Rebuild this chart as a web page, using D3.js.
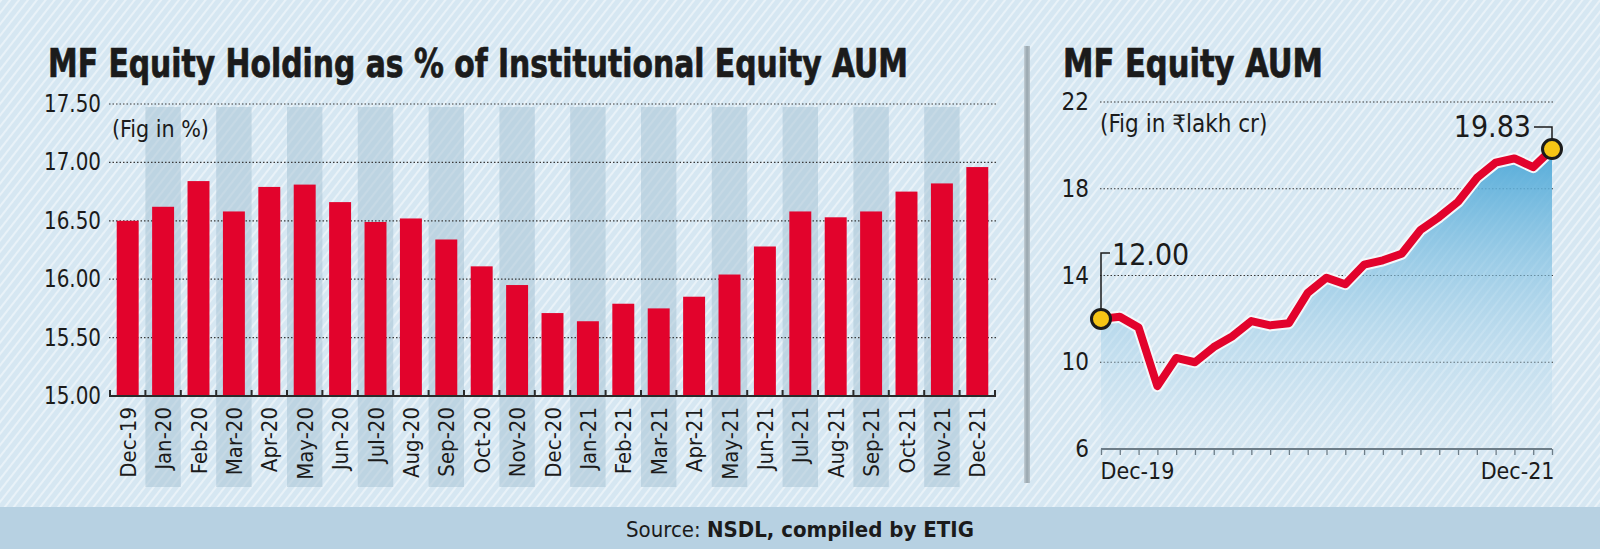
<!DOCTYPE html>
<html>
<head>
<meta charset="utf-8">
<script src="https://cdn.jsdelivr.net/npm/d3@7"></script>
<style>
  html, body { margin: 0; padding: 0; background: #d6e7f2; }
  svg { display: block; }
  text { font-family: 'DejaVu Sans Condensed', 'Liberation Sans Narrow', sans-serif; fill: #1b1b1b; }
</style>
</head>
<body>
<div id="chart"></div>
<script>
const months = ['Dec-19', 'Jan-20', 'Feb-20', 'Mar-20', 'Apr-20', 'May-20', 'Jun-20', 'Jul-20',
  'Aug-20', 'Sep-20', 'Oct-20', 'Nov-20', 'Dec-20', 'Jan-21', 'Feb-21', 'Mar-21', 'Apr-21',
  'May-21', 'Jun-21', 'Jul-21', 'Aug-21', 'Sep-21', 'Oct-21', 'Nov-21', 'Dec-21'];
const holdingPct = [16.50, 16.62, 16.84, 16.58, 16.79, 16.81, 16.66, 16.49, 16.52, 16.34, 16.11,
  15.95, 15.71, 15.64, 15.79, 15.75, 15.85, 16.04, 16.28, 16.58, 16.53, 16.58, 16.75, 16.82, 16.96];
const equityAum = [12.00, 12.1, 11.6, 8.9, 10.2, 10.0, 10.7, 11.2, 11.9, 11.7, 11.8, 13.2, 13.9,
  13.6, 14.5, 14.7, 15.0, 16.1, 16.7, 17.4, 18.5, 19.2, 19.4, 19.0, 19.83];
const pctTicks = [15, 15.5, 16, 16.5, 17, 17.5];
const aumTicks = [6, 10, 14, 18, 22];

const W = 1600, H = 549;
const svg = d3.select('#chart').append('svg').attr('width', W).attr('height', H);
const defs = svg.append('defs');

// background hatch
const pat = defs.append('pattern').attr('id', 'hatch')
  .attr('patternUnits', 'userSpaceOnUse').attr('width', 7).attr('height', 7)
  .attr('patternTransform', 'rotate(38)');
pat.append('rect').attr('width', 7).attr('height', 7).attr('fill', '#d6e7f2');
pat.append('line').attr('x1', 1).attr('x2', 1).attr('y1', 0).attr('y2', 7)
  .attr('stroke', '#eef5fa').attr('stroke-width', 1.6);

const areaGrad = defs.append('linearGradient').attr('id', 'areaGrad')
  .attr('x1', 0).attr('x2', 0).attr('y1', 0).attr('y2', 1);
areaGrad.append('stop').attr('offset', '0%').attr('stop-color', '#4fa9d8').attr('stop-opacity', 0.95);
areaGrad.append('stop').attr('offset', '100%').attr('stop-color', '#cfe4f1').attr('stop-opacity', 0.15);

const sepGrad = defs.append('linearGradient').attr('id', 'sepGrad');
sepGrad.append('stop').attr('offset', '0%').attr('stop-color', '#c3ced5');
sepGrad.append('stop').attr('offset', '50%').attr('stop-color', '#98a6ae');
sepGrad.append('stop').attr('offset', '100%').attr('stop-color', '#b7c3ca');

svg.append('rect').attr('width', W).attr('height', H).attr('fill', 'url(#hatch)');

// ---------- left: bar chart ----------
const slot = d3.scaleBand().domain(months).range([110, 995]).padding(0);
const xBar = d3.scaleBand().domain(months).range([110, 995]).paddingInner(0.38).paddingOuter(0.19);
const yPct = d3.scaleLinear().domain([15, 17.5]).range([396, 104]);

svg.append('text').attr('x', 48).attr('y', 77)
  .attr('font-size', 39).attr('font-weight', 'bold')
  .attr('stroke', '#1b1b1b').attr('stroke-width', 0.7)
  .attr('textLength', 860).attr('lengthAdjust', 'spacingAndGlyphs')
  .text('MF Equity Holding as % of Institutional Equity AUM');

svg.append('g').selectAll('rect')
  .data(months.filter((d, i) => i % 2 === 1))
  .join('rect')
  .attr('x', d => slot(d)).attr('width', slot.bandwidth())
  .attr('y', 107).attr('height', 380)
  .attr('fill', '#a9c4d6').attr('opacity', 0.55);

svg.append('g').selectAll('line')
  .data(pctTicks.slice(1))
  .join('line')
  .attr('x1', 109).attr('x2', 996)
  .attr('y1', d => yPct(d)).attr('y2', d => yPct(d))
  .attr('stroke', '#3a3a3a').attr('stroke-width', 1.2).attr('stroke-dasharray', '1.5,2');

svg.append('g').selectAll('text')
  .data(pctTicks)
  .join('text')
  .attr('x', 101).attr('y', d => yPct(d) + 8)
  .attr('text-anchor', 'end').attr('font-size', 24)
  .attr('textLength', 57).attr('lengthAdjust', 'spacingAndGlyphs')
  .text(d => d3.format('.2f')(d));

svg.append('text').attr('x', 112).attr('y', 137).attr('font-size', 23).text('(Fig in %)');

svg.append('g').selectAll('rect')
  .data(months)
  .join('rect')
  .attr('x', d => xBar(d)).attr('width', xBar.bandwidth())
  .attr('y', (d, i) => yPct(holdingPct[i]))
  .attr('height', (d, i) => yPct(15) - yPct(holdingPct[i]))
  .attr('fill', '#e2032c');

const axisG = svg.append('g');
axisG.append('line').attr('x1', 109).attr('x2', 996)
  .attr('y1', yPct(15)).attr('y2', yPct(15))
  .attr('stroke', '#2b2b2b').attr('stroke-width', 2.2);
axisG.selectAll('line.tick')
  .data(months.map(d => slot(d)).concat([slot.range()[1]]))
  .join('line').attr('class', 'tick')
  .attr('x1', d => d).attr('x2', d => d)
  .attr('y1', yPct(15) - 6).attr('y2', yPct(15))
  .attr('stroke', '#2b2b2b').attr('stroke-width', 2);

svg.append('g').selectAll('text')
  .data(months)
  .join('text')
  .attr('transform', d => `translate(${slot(d) + slot.bandwidth() / 2 + 8},407) rotate(-90)`)
  .attr('text-anchor', 'end').attr('font-size', 22)
  .text(d => d);

// separator
svg.append('rect').attr('x', 1024).attr('y', 46).attr('width', 6).attr('height', 437)
  .attr('fill', 'url(#sepGrad)');

// ---------- right: line chart ----------
const xPt = d3.scalePoint().domain(months).range([1101, 1552]);
const yAum = d3.scaleLinear().domain([6, 22]).range([449, 102]);

svg.append('text').attr('x', 1063).attr('y', 77)
  .attr('font-size', 39).attr('font-weight', 'bold')
  .attr('stroke', '#1b1b1b').attr('stroke-width', 0.7)
  .attr('textLength', 260).attr('lengthAdjust', 'spacingAndGlyphs')
  .text('MF Equity AUM');

svg.append('g').selectAll('line')
  .data(aumTicks.slice(1))
  .join('line')
  .attr('x1', 1100).attr('x2', 1553)
  .attr('y1', d => yAum(d)).attr('y2', d => yAum(d))
  .attr('stroke', '#3a3a3a').attr('stroke-width', 1.2).attr('stroke-dasharray', '1.5,2');

svg.append('g').selectAll('text')
  .data(aumTicks)
  .join('text')
  .attr('x', 1089).attr('y', d => yAum(d) + 8)
  .attr('text-anchor', 'end').attr('font-size', 24)
  .text(d => d);

svg.append('text').attr('x', 1100).attr('y', 132).attr('font-size', 24).text('(Fig in ₹lakh cr)');

const area = d3.area()
  .x((d, i) => xPt(months[i]))
  .y0(yAum(6)).y1(d => yAum(d) + 4);
svg.append('path').datum(equityAum).attr('d', area).attr('fill', 'url(#areaGrad)');

const xAxisR = svg.append('g').attr('transform', `translate(0,${yAum(6)})`)
  .call(d3.axisBottom(xPt).tickSize(6).tickPadding(8)
    .tickFormat((d, i) => (i === 0 || i === months.length - 1) ? d : ''));
xAxisR.select('.domain').attr('stroke', '#6d7d88').attr('stroke-width', 2).attr('d', `M1101,0H1552`);
xAxisR.selectAll('.tick line').attr('stroke', '#6d7d88').attr('stroke-width', 1.3);
xAxisR.selectAll('.tick text')
  .attr('font-size', 23).attr('fill', '#1b1b1b')
  .attr('font-family', "'DejaVu Sans Condensed', 'Liberation Sans Narrow', sans-serif")
  .attr('text-anchor', (d, i) => i === 0 ? 'start' : 'end')
  .attr('dx', (d, i) => i === 0 ? -1 : 2);

const line = d3.line().x((d, i) => xPt(months[i])).y(d => yAum(d));
svg.append('path').datum(equityAum).attr('d', line)
  .attr('fill', 'none').attr('stroke', '#f4f8fb').attr('stroke-width', 12)
  .attr('stroke-linejoin', 'round');
svg.append('path').datum(equityAum).attr('d', line)
  .attr('fill', 'none').attr('stroke', '#e2032c').attr('stroke-width', 8)
  .attr('stroke-linejoin', 'round');

// callouts
const first = 0, last = equityAum.length - 1;
const fx = xPt(months[first]), fy = yAum(equityAum[first]);
const lx = xPt(months[last]), ly = yAum(equityAum[last]);
svg.append('path').attr('d', `M${fx},${fy}V253H${fx + 9}`)
  .attr('fill', 'none').attr('stroke', '#1b1b1b').attr('stroke-width', 1.5);
svg.append('text').attr('x', fx + 11).attr('y', 265).attr('font-size', 30)
  .text(equityAum[first].toFixed(2));
svg.append('path').attr('d', `M${lx - 18},127H${lx}V${ly}`)
  .attr('fill', 'none').attr('stroke', '#1b1b1b').attr('stroke-width', 1.5);
svg.append('text').attr('x', lx - 21).attr('y', 137).attr('text-anchor', 'end').attr('font-size', 30)
  .text(equityAum[last].toFixed(2));

svg.append('g').selectAll('circle')
  .data([first, last])
  .join('circle')
  .attr('cx', i => xPt(months[i])).attr('cy', i => yAum(equityAum[i]))
  .attr('r', 9.5).attr('fill', '#f6c515').attr('stroke', '#1b1b1b').attr('stroke-width', 3);

// footer
svg.append('rect').attr('x', 0).attr('y', 507).attr('width', W).attr('height', H - 507)
  .attr('fill', '#b7d1e2');
const src = svg.append('text').attr('x', W / 2).attr('y', 537)
  .attr('text-anchor', 'middle').attr('font-size', 22);
src.append('tspan').text('Source: ');
src.append('tspan').attr('font-weight', 'bold').text('NSDL, compiled by ETIG');
</script>
</body>
</html>
